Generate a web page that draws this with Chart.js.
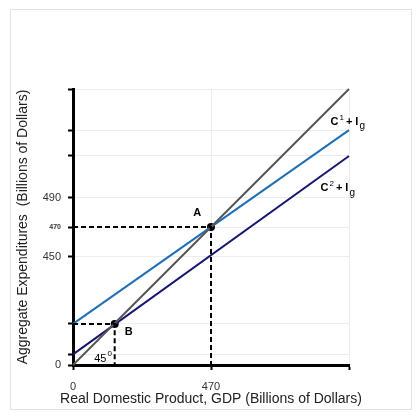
<!DOCTYPE html>
<html>
<head>
<meta charset="utf-8">
<script src="https://cdn.jsdelivr.net/npm/chart.js@4.4.0/dist/chart.umd.min.js"></script>
<style>
body { margin: 0; background: #fff; }
#frame { position: absolute; left: 10px; top: 9px; width: 400px; height: 399px; border: 1px solid #e2e2e2; }
#chart { position: absolute; left: 0; top: 0; }
</style>
</head>
<body>
<div id="frame"></div>
<canvas id="chart" width="418" height="420"></canvas>
<script>
// diagram units, both axes run 0..940 and point A sits at 470
var xMax = 940, yMax = 940;
var xTicks = [0, 470, 940];
var xTickLabels = ['0', '470', ''];
var yTicks = [0, 36, 140, 368, 470, 569, 712, 800, 940];
var yTickLabels = ['0', '', '', '450', '470', '490', '', '', ''];
var xTitle = 'Real Domestic Product, GDP (Billions of Dollars)';
var yTitle = 'Aggregate Expenditures  (Billions of Dollars)';

var lineX = [0, 940];
var line45 = [0, 940];
var lineC1 = [140, 800];
var lineC2 = [36, 712];

var guideAX = [0, 470, 470], guideAY = [470, 470, 0];
var guideBX = [0, 142, 142], guideBY = [140, 140, 0];

var pointX = [470, 142], pointY = [470, 140];

var tagText = ['A', 'B'];
var tagX = [423, 190], tagY = [518, 112];

var eqSup = ['1', '2'];
var eqX = [877, 843], eqY = [829, 603];

var angleText = '45', angleX = 72, angleY = 22;

function toXY(xs, ys) {
    var out = [];
    for (let i = 0; i < xs.length; i++) out.push({x: xs[i], y: ys[i]});
    return out;
}

function lineSet(ys, color) {
    return {
        data: toXY(lineX, ys),
        showLine: true,
        borderColor: color,
        borderWidth: 2,
        pointRadius: 0,
        clip: false
    };
}

function guideSet(xs, ys) {
    return {
        data: toXY(xs, ys),
        showLine: true,
        borderColor: '#000',
        borderWidth: 2,
        borderDash: [5, 3],
        pointRadius: 0,
        clip: false
    };
}

var FONT = '"Liberation Sans", Arial, sans-serif';
Chart.defaults.font.family = FONT;

const notes = {
    id: 'notes',
    afterDatasetsDraw(chart) {
        const ctx = chart.ctx, sx = chart.scales.x, sy = chart.scales.y;
        ctx.save();
        ctx.fillStyle = '#000';
        ctx.textBaseline = 'middle';

        // x title drawn here so chart.js does not squeeze it to the plot width
        ctx.textAlign = 'center';
        ctx.fillStyle = '#222';
        ctx.font = '14px ' + FONT;
        ctx.fillText(xTitle, (sx.left + sx.right) / 2, sx.bottom - 21);
        ctx.fillStyle = '#000';

        ctx.font = 'bold 11px ' + FONT;
        for (let i = 0; i < tagText.length; i++) {
            ctx.fillText(tagText[i], sx.getPixelForValue(tagX[i]), sy.getPixelForValue(tagY[i]));
        }

        ctx.textAlign = 'left';
        for (let i = 0; i < eqSup.length; i++) {
            var px = sx.getPixelForValue(eqX[i]);
            var py = sy.getPixelForValue(eqY[i]);
            var parts = [
                ['C', 'bold 11px ', 0, 1],
                [eqSup[i], '8px ', -4, 2],
                ['+', 'bold 11px ', 0, 3],
                ['I', 'bold 11px ', 0, 1],
                ['g', '10px ', 5, 0]
            ];
            parts.forEach(p => {
                ctx.font = p[1] + FONT;
                ctx.fillText(p[0], px, py + p[2]);
                px += ctx.measureText(p[0]).width + p[3];
            });
        }

        var ax = sx.getPixelForValue(angleX), ay = sy.getPixelForValue(angleY);
        ctx.font = '11px ' + FONT;
        ctx.fillText(angleText, ax, ay);
        ax += ctx.measureText(angleText).width + 1;
        ctx.font = '8px ' + FONT;
        ctx.fillText('0', ax, ay - 5);

        ctx.restore();
    }
};

new Chart(document.getElementById('chart'), {
    type: 'scatter',
    data: {
        datasets: [
            guideSet(guideAX, guideAY),
            guideSet(guideBX, guideBY),
            lineSet(line45, '#555555'),
            lineSet(lineC1, '#1f6fb6'),
            lineSet(lineC2, '#17166f'),
            {
                data: toXY(pointX, pointY),
                backgroundColor: '#000',
                borderWidth: 0,
                pointRadius: 4,
                clip: false
            }
        ]
    },
    options: {
        responsive: false,
        animation: false,
        layout: { padding: { left: 0, top: 89, right: 69, bottom: 0 } },
        plugins: { legend: { display: false }, tooltip: { enabled: false } },
        scales: {
            x: {
                type: 'linear',
                min: 0,
                max: xMax,
                afterFit: s => { s.height = 55; },
                afterBuildTicks: s => { s.ticks = xTicks.map(v => ({value: v})); },
                border: { color: '#000', width: 3 },
                grid: { color: '#ececec', lineWidth: 1, tickColor: '#000', tickWidth: 2, tickLength: 5 },
                ticks: {
                    padding: 10,
                    color: '#333',
                    font: { size: 11 },
                    maxRotation: 0,
                    callback: v => xTickLabels[xTicks.indexOf(v)]
                }
            },
            y: {
                type: 'linear',
                min: 0,
                max: yMax,
                afterFit: s => { s.width = 73; },
                afterBuildTicks: s => { s.ticks = yTicks.map(v => ({value: v})); },
                border: { color: '#000', width: 3 },
                grid: { color: '#ececec', lineWidth: 1, tickColor: '#000', tickWidth: 2, tickLength: 5 },
                ticks: {
                    padding: 7,
                    color: '#333',
                    font: c => (c.tick && c.tick.value === 470) ? { size: 7, weight: 'bold' } : { size: 11 },
                    callback: v => yTickLabels[yTicks.indexOf(v)]
                },
                title: {
                    display: true,
                    text: yTitle,
                    color: '#222',
                    font: { size: 14 },
                    padding: { top: 15, bottom: 0 }
                }
            }
        }
    },
    plugins: [notes]
});
</script>
</body>
</html>
